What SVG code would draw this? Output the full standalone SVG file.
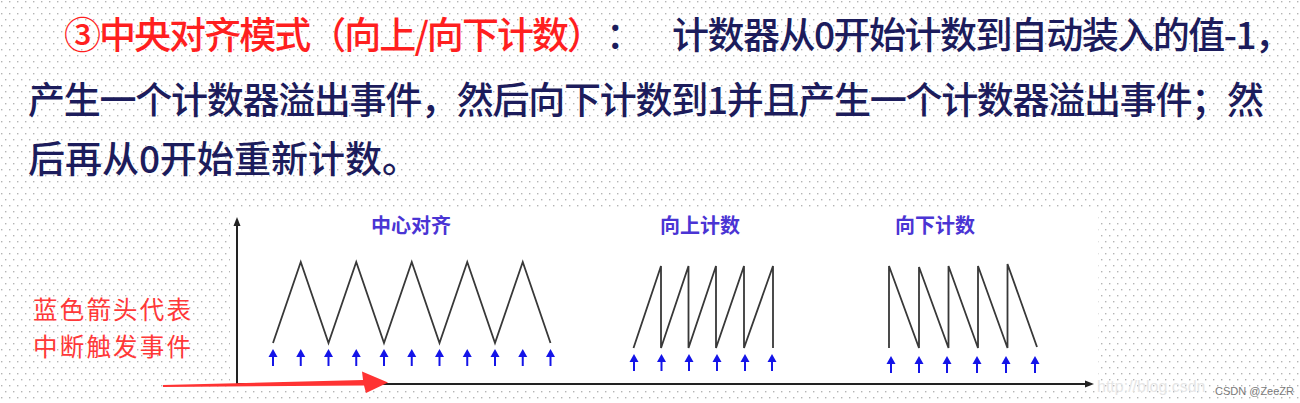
<svg xmlns="http://www.w3.org/2000/svg" width="1300" height="403" viewBox="0 0 1300 403">
<style>
.title{font-family:"Noto Sans CJK SC","Noto Sans",sans-serif;font-size:37px;font-weight:500;}
.red{fill:#ff1f1f;}
.navy{fill:#1c1c5c;}
.lbl{font-family:"Noto Sans CJK SC","Noto Sans",sans-serif;font-size:20px;font-weight:bold;fill:#4a34d4;}
.note{font-family:"Noto Sans CJK SC","Noto Sans",sans-serif;font-size:24.5px;fill:#ff3838;}
.wave{fill:none;stroke:#383838;stroke-width:1.8;stroke-linejoin:miter;}
.axis{stroke:#222;stroke-width:2;}
.wm{font-family:"Liberation Sans",sans-serif;font-size:11px;fill:#7a7a7a;}
</style>
<defs>
<pattern id="dots" width="8" height="12" patternUnits="userSpaceOnUse">
<rect x="1" y="1" width="1.4" height="1.4" fill="#b4b4b4"/>
<rect x="5" y="7" width="1.4" height="1.4" fill="#b4b4b4"/>
</pattern>
<g id="ba">
<polygon points="0,0 -4.5,8 4.5,8" fill="#1414e8"/>
<line x1="0" y1="6" x2="0" y2="17" stroke="#1414e8" stroke-width="2"/>
</g>
</defs>
<rect width="1300" height="403" fill="#ffffff"/>
<rect width="1300" height="403" fill="url(#dots)"/>
<rect id="panel" x="230" y="207" width="868" height="183" fill="#ffffff"/>

<g id="title">
<text class="title red" x="64" y="49" textLength="540" lengthAdjust="spacing">③中央对齐模式（向上/向下计数）</text>
<text class="title navy" x="606" y="49">：</text>
<text class="title navy" x="672" y="49" textLength="620" lengthAdjust="spacing">计数器从0开始计数到自动装入的值-1，</text>
<text class="title navy" x="28" y="114" textLength="1236" lengthAdjust="spacing">产生一个计数器溢出事件，然后向下计数到1并且产生一个计数器溢出事件；然</text>
<text class="title navy" x="28" y="173">后再从0开始重新计数。</text>
</g>

<g id="axes">
<line class="axis" x1="237" y1="385" x2="237" y2="224"/>
<polygon points="237,217 233.5,226 240.5,226" fill="#222"/>
<line class="axis" x1="237" y1="384" x2="1086" y2="384"/>
<polygon points="1094,384 1085,380.5 1085,387.5" fill="#222"/>
</g>

<g id="center-aligned">
<text class="lbl" x="411" y="233" text-anchor="middle">中心对齐</text>
<polyline class="wave" points="273,343 300.75,262 328.5,343 356.25,262 384,343 411.75,262 439.5,343 467.25,262 495,343 522.75,262 550.5,343"/>
<use href="#ba" x="273" y="349"/>
<use href="#ba" x="300.75" y="349"/>
<use href="#ba" x="328.5" y="349"/>
<use href="#ba" x="356.25" y="349"/>
<use href="#ba" x="384" y="349"/>
<use href="#ba" x="411.75" y="349"/>
<use href="#ba" x="439.5" y="349"/>
<use href="#ba" x="467.25" y="349"/>
<use href="#ba" x="495" y="349"/>
<use href="#ba" x="522.75" y="349"/>
<use href="#ba" x="550.5" y="349"/>
</g>

<g id="up-counting">
<text class="lbl" x="700" y="233" text-anchor="middle">向上计数</text>
<polyline class="wave" points="633.5,348 661,266 661,348 688.5,266 688.5,348 716,266 716,348 744,266 744,348 773,266 773,348"/>
<use href="#ba" x="634" y="354"/>
<use href="#ba" x="661.5" y="354"/>
<use href="#ba" x="689" y="354"/>
<use href="#ba" x="717" y="354"/>
<use href="#ba" x="745" y="354"/>
<use href="#ba" x="772" y="354"/>
</g>

<g id="down-counting">
<text class="lbl" x="935" y="233" text-anchor="middle">向下计数</text>
<polyline class="wave" points="889,348 889,266 919,348 919,267 948.5,348 948.5,266 978,348 978,266 1007.5,348 1007.5,264 1037,347"/>
<use href="#ba" x="891" y="356"/>
<use href="#ba" x="919" y="356"/>
<use href="#ba" x="947" y="356"/>
<use href="#ba" x="977" y="356"/>
<use href="#ba" x="1006" y="356"/>
<use href="#ba" x="1035" y="356"/>
</g>

<g id="note">
<text class="note" x="33" y="319" textLength="158" lengthAdjust="spacing">蓝色箭头代表</text>
<text class="note" x="33" y="356" textLength="158" lengthAdjust="spacing">中断触发事件</text>
</g>

<g id="connectors">
<polygon points="163,385 363,380 362,371.5 388,382.5 366,393 364,385.5 163,387" fill="#ff3333"/>
</g>

<g id="watermark">
<text x="1097" y="392" font-family="Liberation Sans,sans-serif" font-size="16" fill="#e6e6e6">http://blog.csdn</text>
<text class="wm" x="1215" y="395">CSDN @ZeeZR</text>
</g>
</svg>
